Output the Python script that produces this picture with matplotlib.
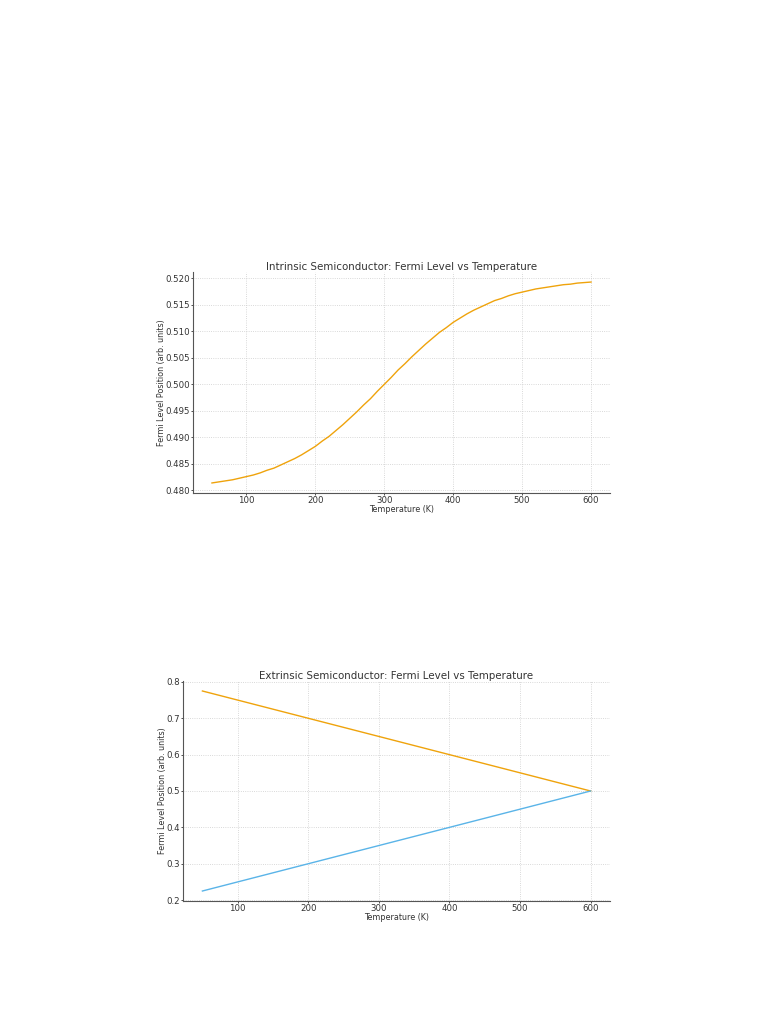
import matplotlib
matplotlib.use("Agg")
from matplotlib import pyplot as plt

# intrinsic semiconductor: Fermi level every 10 K
temps_intrinsic = list(range(50, 601, 10))
fermi_intrinsic = [0.4814, 0.4816, 0.4818, 0.4820, 0.4823, 0.4826, 0.4829,
                   0.4833, 0.4838, 0.4842, 0.4848, 0.4854, 0.4860, 0.4867,
                   0.4875, 0.4883, 0.4893, 0.4902, 0.4913, 0.4924, 0.4936,
                   0.4948, 0.4961, 0.4973, 0.4987, 0.5000, 0.5013, 0.5027,
                   0.5039, 0.5052, 0.5064, 0.5076, 0.5087, 0.5098, 0.5107,
                   0.5117, 0.5125, 0.5133, 0.5140, 0.5146, 0.5152, 0.5158,
                   0.5162, 0.5167, 0.5171, 0.5174, 0.5177, 0.5180, 0.5182,
                   0.5184, 0.5186, 0.5188, 0.5189, 0.5191, 0.5192, 0.5193]

# extrinsic semiconductor: two straight lines meeting at 600 K
temps_extrinsic = [50, 600]
fermi_n_type = [0.775, 0.5]
fermi_p_type = [0.225, 0.5]

orange = '#EFA30C'
blue = '#5AB4E8'
text_color = '#333333'

plt.rcParams['font.family'] = 'DejaVu Sans'
plt.rcParams['font.size'] = 5.8

fig = plt.figure(figsize=(7.68, 10.24), dpi=100)
W, H = 768, 1024


def make_axes(left, top, right, bottom):
    return fig.add_axes([left / W, 1 - bottom / H, (right - left) / W, (bottom - top) / H])


def style(ax, title):
    ax.set_title(title, fontsize=7.4, color=text_color, pad=1.5)
    ax.set_xlabel('Temperature (K)', color=text_color, labelpad=-0.5)
    ax.set_ylabel('Fermi Level Position (arb. units)', color=text_color, labelpad=-0.5)
    ax.grid(True, linestyle=':', color='#cccccc', linewidth=0.6)
    for side in ['top', 'right']:
        ax.spines[side].set_visible(False)
    for side in ['left', 'bottom']:
        ax.spines[side].set_color('#555555')
        ax.spines[side].set_linewidth(0.8)
    ax.tick_params(colors=text_color, length=1.5, width=0.6, pad=1, labelsize=6.2)
    ax.set_xticks([100, 200, 300, 400, 500, 600])


ax1 = make_axes(193, 272, 610, 493)
ax1.plot(temps_intrinsic, fermi_intrinsic, color=orange, linewidth=1.0)
ax1.set_yticks([0.480, 0.485, 0.490, 0.495, 0.500, 0.505, 0.510, 0.515, 0.520])
ax1.yaxis.set_major_formatter(matplotlib.ticker.FormatStrFormatter('%.3f'))
style(ax1, 'Intrinsic Semiconductor: Fermi Level vs Temperature')

ax2 = make_axes(183, 681, 610, 901)
ax2.plot(temps_extrinsic, fermi_n_type, color=orange, linewidth=1.0)
ax2.plot(temps_extrinsic, fermi_p_type, color=blue, linewidth=1.0)
ax2.set_yticks([0.2, 0.3, 0.4, 0.5, 0.6, 0.7, 0.8])
style(ax2, 'Extrinsic Semiconductor: Fermi Level vs Temperature')

fig.savefig('out.png', dpi=100, facecolor='white')
